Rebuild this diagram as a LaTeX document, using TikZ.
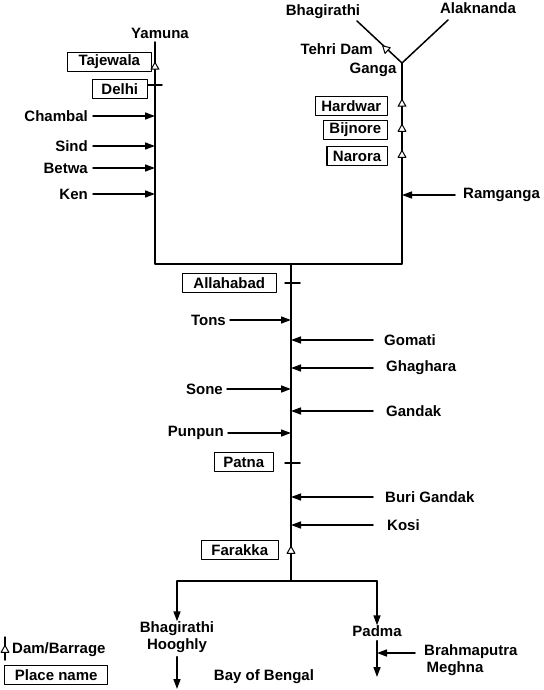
\documentclass[tikz,border=0pt]{standalone}
\usepackage{fontspec}
\setmainfont{Liberation Sans}
\usetikzlibrary{arrows.meta}
\usetikzlibrary{shapes.geometric}

\begin{document}
\begin{tikzpicture}[line cap=round,line join=round,>={Triangle[length=10pt,width=7pt]},x=1pt,y=-1pt,
  river/.style={line width=1.5pt},
  trib/.style={line width=1.5pt,->},
  place/.style={draw,line width=1.4pt,font=\bfseries\fontsize{15}{17}\selectfont,inner xsep=6pt,inner ysep=0pt,minimum height=19pt},
  lbl/.style={font=\bfseries\fontsize{15}{17}\selectfont,inner sep=0pt},
  dam/.style={draw,fill=white,regular polygon,regular polygon sides=3,minimum size=9pt,inner sep=0pt,line width=1pt}]
\useasboundingbox (0,0) rectangle (543,690);
% river course
\coordinate (ysrc) at (155,42);
\coordinate (yend) at (155,264);
\coordinate (gconf) at (402,63);
\coordinate (gturn) at (402,264);
\coordinate (gjoin) at (291,264);
\coordinate (gsplit) at (291,581);
\coordinate (bsrc) at (357,21);
\coordinate (asrc) at (448,20);
\coordinate (hleft) at (177,581);
\coordinate (hright) at (377,581);
\draw [river] (ysrc) -- (yend) -- (gturn) -- (gconf);
\draw [river] (bsrc) -- (gconf) -- (asrc);
\draw [river] (gjoin) -- (gsplit);
\draw [river] (hleft) -- (hright);
% headwaters
\node [lbl] (yamuna) at (160,33) {Yamuna};
\node [lbl] (bhagi) at (323,12) {Bhagirathi};
\node [lbl] (alak) at (478,8) {Alaknanda};
\node [lbl,anchor=east] (tehri) at (373,49) {Tehri Dam};
\node [lbl] (ganga) at (373,70) {Ganga};
% places and dams
\node [place,anchor=east,minimum width=84pt] (tajewala) at (152,62) {Tajewala};
\node [place,anchor=east,minimum width=55pt] (delhi) at (148,89) {Delhi};
\node [place,anchor=east,minimum width=72pt] (hardwar) at (388,106) {Hardwar};
\node [place,anchor=east,minimum width=64pt] (bijnore) at (388,130) {Bijnore};
\node [place,anchor=east,minimum width=60pt] (narora) at (388,156) {Narora};
\node [place,anchor=east,minimum width=94pt] (allahabad) at (277,283) {Allahabad};
\node [place,anchor=east,minimum width=59pt] (patna) at (274,462) {Patna};
\node [place,anchor=east,minimum width=77pt] (farakka) at (279,550) {Farakka};
\node [dam] (damtaj) at (155,67) {};
\node [dam] (damhar) at (402,104) {};
\node [dam] (dambij) at (402,129) {};
\node [dam] (damnar) at (402,155) {};
\node [dam] (damfar) at (291,551) {};
\node [dam,rotate=47] (damteh) at (386,49) {};
\draw [river] (148,85) -- (162,85);
\draw [river] (285,283) -- (300,283);
\draw [river] (285,463) -- (300,463);
% tributaries from the left
\node [lbl,anchor=east] (chambal) at (88,116) {Chambal};
\node [lbl,anchor=east] (sind) at (88,146) {Sind};
\node [lbl,anchor=east] (betwa) at (88,168) {Betwa};
\node [lbl,anchor=east] (ken) at (88,194) {Ken};
\node [lbl,anchor=east] (tons) at (226,320) {Tons};
\node [lbl,anchor=east] (sone) at (223,389) {Sone};
\node [lbl,anchor=east] (punpun) at (224,433) {Punpun};
\foreach \t in {chambal,sind,betwa,ken}
  \draw [trib,shorten <=5pt] (\t.east) -- (\t.east -| ysrc);
\foreach \t in {tons,sone,punpun}
  \draw [trib,shorten <=4pt] (\t.east) -- (\t.east -| gjoin);
% tributaries from the right
\node [lbl,anchor=west] (ramganga) at (463,195) {Ramganga};
\node [lbl,anchor=west] (gomati) at (384,340) {Gomati};
\node [lbl,anchor=west] (ghaghara) at (386,368) {Ghaghara};
\node [lbl,anchor=west] (gandak) at (386,411) {Gandak};
\node [lbl,anchor=west] (burigandak) at (385,497) {Buri Gandak};
\node [lbl,anchor=west] (kosi) at (387,525) {Kosi};
\draw [trib,shorten <=8pt] (ramganga.west) -- (ramganga.west -| gconf);
\draw [trib,shorten <=11pt] (gomati.west) -- (gomati.west -| gjoin);
\draw [trib,shorten <=13pt] (ghaghara.west) -- (ghaghara.west -| gjoin);
\draw [trib,shorten <=13pt] (gandak.west) -- (gandak.west -| gjoin);
\draw [trib,shorten <=12pt] (burigandak.west) -- (burigandak.west -| gjoin);
\draw [trib,shorten <=14pt] (kosi.west) -- (kosi.west -| gjoin);
% distributaries
\node [lbl,align=center] (hooghly) at (177,637) {Bhagirathi\\Hooghly};
\node [lbl] (padma) at (377,631) {Padma};
\node [lbl] (bay) at (264,677) {Bay of Bengal};
\node [lbl,align=left,anchor=west] (brahma) at (424,660) {Brahmaputra\\\,Meghna};
\coordinate (hoogout) at (177,689);
\coordinate (padout) at (377,677);
\coordinate (bmtail) at (415,653);
\draw [trib] (hleft) -- (hooghly.north);
\draw [trib] (hright) -- (padma.north);
\draw [trib,shorten <=4pt] (hooghly.south) -- (hoogout);
\draw [trib,shorten <=4pt] (padma.south) -- (padout);
\draw [trib] (bmtail) -- (bmtail -| padma);
% legend
\draw [river] (5,637) -- (5,660);
\node [dam] (damkey) at (5,650) {};
\node [lbl,anchor=west] (damtxt) at (12,650) {Dam/Barrage};
\node [place,anchor=west,minimum height=19pt,minimum width=103pt] (placekey) at (4,675) {Place name};
\end{tikzpicture}
\end{document}
